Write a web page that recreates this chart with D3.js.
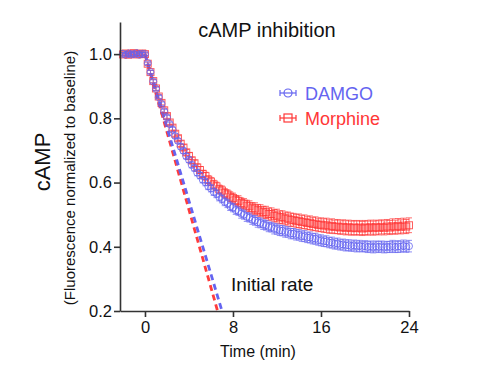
<!DOCTYPE html>
<html>
<head>
<meta charset="utf-8">
<script src="https://cdn.jsdelivr.net/npm/d3@7"></script>
<style>
  body { margin: 0; background: #fff; }
  svg text { font-family: "Liberation Sans", Arial, sans-serif; }
</style>
</head>
<body>
<div id="chart"></div>
<script>
// cAMP inhibition time course, DAMGO vs morphine
// x -> time (min), y -> cAMP normalized to baseline

var svgWidth = 480, svgHeight = 373;

// sampling grid, one reading every 15 s
var times = d3.range(-2, 24.001, 0.25);

var damgoMean = [
  1.001, 0.998, 1.002, 0.999, 1.000, 1.003, 0.998, 1.001, 1.000,
  0.972, 0.944, 0.915, 0.892, 0.866, 0.845, 0.822, 0.803,
  0.782, 0.765, 0.745, 0.730, 0.712, 0.699, 0.682, 0.671,
  0.655, 0.645, 0.631, 0.622, 0.609, 0.601, 0.589, 0.582,
  0.571, 0.565, 0.555, 0.549, 0.540, 0.535, 0.526, 0.522,
  0.514, 0.511, 0.503, 0.500, 0.493, 0.491, 0.484, 0.482,
  0.476, 0.474, 0.469, 0.467, 0.462, 0.461, 0.456, 0.455,
  0.451, 0.450, 0.446, 0.446, 0.441, 0.441, 0.437, 0.437,
  0.433, 0.433, 0.429, 0.429, 0.425, 0.425, 0.421, 0.420,
  0.417, 0.417, 0.413, 0.413, 0.409, 0.410, 0.406, 0.407,
  0.404, 0.405, 0.402, 0.404, 0.401, 0.403, 0.400, 0.402,
  0.399, 0.401, 0.398, 0.401, 0.399, 0.401, 0.398, 0.400,
  0.399, 0.402, 0.399, 0.401, 0.400, 0.403, 0.400, 0.402
];
var damgoErr = [
  0.004, 0.004, 0.004, 0.005, 0.004, 0.004, 0.005, 0.004, 0.004,
  0.004, 0.005, 0.005, 0.005, 0.005, 0.006, 0.006, 0.006,
  0.006, 0.007, 0.007, 0.007, 0.008, 0.008, 0.008, 0.009,
  0.009, 0.009, 0.010, 0.010, 0.010, 0.011, 0.011, 0.011,
  0.011, 0.012, 0.012, 0.012, 0.012, 0.013, 0.013, 0.013,
  0.013, 0.013, 0.014, 0.014, 0.014, 0.014, 0.014, 0.015,
  0.015, 0.015, 0.015, 0.015, 0.015, 0.015, 0.016, 0.016,
  0.016, 0.016, 0.016, 0.016, 0.016, 0.016, 0.016, 0.016,
  0.016, 0.017, 0.016, 0.017, 0.016, 0.017, 0.016, 0.017,
  0.016, 0.017, 0.016, 0.017, 0.016, 0.017, 0.016, 0.017,
  0.017, 0.017, 0.016, 0.017, 0.017, 0.017, 0.016, 0.017,
  0.017, 0.017, 0.017, 0.017, 0.017, 0.017, 0.017, 0.017,
  0.017, 0.018, 0.017, 0.018, 0.017, 0.018, 0.017, 0.018
];

var morphineMean = [
  0.999, 1.002, 0.998, 1.001, 1.003, 0.999, 1.000, 1.002, 1.000,
  0.970, 0.944, 0.916, 0.893, 0.868, 0.848, 0.825, 0.807,
  0.787, 0.771, 0.752, 0.738, 0.721, 0.709, 0.694, 0.683,
  0.669, 0.660, 0.647, 0.639, 0.627, 0.620, 0.609, 0.603,
  0.594, 0.588, 0.579, 0.575, 0.567, 0.563, 0.556, 0.552,
  0.545, 0.543, 0.536, 0.534, 0.528, 0.526, 0.520, 0.519,
  0.514, 0.513, 0.508, 0.507, 0.502, 0.502, 0.497, 0.497,
  0.492, 0.492, 0.488, 0.488, 0.484, 0.484, 0.480, 0.481,
  0.477, 0.478, 0.474, 0.475, 0.471, 0.472, 0.468, 0.469,
  0.466, 0.467, 0.463, 0.465, 0.462, 0.463, 0.460, 0.462,
  0.459, 0.461, 0.458, 0.460, 0.458, 0.460, 0.457, 0.460,
  0.458, 0.461, 0.458, 0.461, 0.459, 0.462, 0.459, 0.463,
  0.460, 0.464, 0.461, 0.465, 0.462, 0.466, 0.463, 0.467
];
var morphineErr = [
  0.004, 0.005, 0.004, 0.004, 0.005, 0.004, 0.004, 0.005, 0.004,
  0.005, 0.005, 0.005, 0.006, 0.006, 0.006, 0.007, 0.007,
  0.007, 0.008, 0.008, 0.008, 0.009, 0.009, 0.009, 0.010,
  0.010, 0.010, 0.011, 0.011, 0.011, 0.012, 0.012, 0.012,
  0.013, 0.013, 0.013, 0.014, 0.014, 0.014, 0.015, 0.015,
  0.015, 0.016, 0.016, 0.016, 0.017, 0.017, 0.017, 0.018,
  0.018, 0.018, 0.018, 0.019, 0.019, 0.019, 0.019, 0.020,
  0.020, 0.020, 0.020, 0.020, 0.021, 0.020, 0.021, 0.021,
  0.021, 0.021, 0.021, 0.021, 0.021, 0.021, 0.021, 0.021,
  0.021, 0.022, 0.021, 0.022, 0.021, 0.022, 0.021, 0.022,
  0.022, 0.022, 0.022, 0.022, 0.022, 0.022, 0.022, 0.022,
  0.022, 0.022, 0.022, 0.022, 0.022, 0.022, 0.022, 0.022,
  0.022, 0.023, 0.022, 0.023, 0.022, 0.023, 0.022, 0.023
];

// initial rate lines (time, value) start and end
var damgoRate = [[0, 1.0], [7.0, 0.2]];
var morphineRate = [[0, 1.0], [6.6, 0.2]];

var xTicks = [0, 8, 16, 24];
var yTicks = [0.2, 0.4, 0.6, 0.8, 1.0];
var legendNames = ["DAMGO", "Morphine"];

var blue = "rgba(100,100,240,0.8)";
var red = "rgba(255,55,55,0.8)";

var svg = d3.select("#chart")
            .append("svg")
            .attr("width", svgWidth)
            .attr("height", svgHeight);

// scales
var xScale = d3.scaleLinear().domain([-2.27, 24]).range([120, 409]);
var yScale = d3.scaleLinear().domain([0.2, 1.1]).range([311, 22]);

// build rows for each series
function rows(means, errs) {
  return times.map(function(t, i) {
    return { t: t, v: means[i], e: errs[i] };
  });
}
var damgoData = rows(damgoMean, damgoErr);
var morphineData = rows(morphineMean, morphineErr);

// dashed initial rate lines, behind the markers
var line = d3.line().x(d => xScale(d[0])).y(d => yScale(d[1]));
svg.append("path").datum(morphineRate)
   .attr("d", line).attr("fill", "none")
   .attr("stroke", "rgb(255,60,60)").attr("stroke-width", 2.8)
   .attr("stroke-dasharray", "6,4");
svg.append("path").datum(damgoRate)
   .attr("d", line).attr("fill", "none")
   .attr("stroke", "rgb(100,100,240)").attr("stroke-width", 2.8)
   .attr("stroke-dasharray", "6,4");

// error bars + markers
function drawSeries(data, color, shape) {
  var g = svg.append("g");
  g.selectAll(".err").data(data).enter().append("path")
    .attr("d", function(d) {
      var x = xScale(d.t), y1 = yScale(d.v + d.e), y2 = yScale(d.v - d.e);
      return "M" + (x - 3) + "," + y1 + "H" + (x + 3) +
             "M" + x + "," + y1 + "V" + y2 +
             "M" + (x - 3) + "," + y2 + "H" + (x + 3);
    })
    .attr("stroke", color).attr("stroke-width", 0.9).attr("fill", "none");
  if (shape === "circle") {
    g.selectAll(".pt").data(data).enter().append("circle")
      .attr("cx", d => xScale(d.t))
      .attr("cy", d => yScale(d.v))
      .attr("r", 3.5)
      .attr("fill", "none").attr("stroke", color).attr("stroke-width", 1);
  } else {
    g.selectAll(".pt").data(data).enter().append("rect")
      .attr("x", d => xScale(d.t) - 3.5)
      .attr("y", d => yScale(d.v) - 3.5)
      .attr("width", 7).attr("height", 7)
      .attr("fill", "none").attr("stroke", color).attr("stroke-width", 1);
  }
}
drawSeries(morphineData, red, "square");
drawSeries(damgoData, blue, "circle");

// axes
var xAxis = svg.append("g")
  .attr("transform", "translate(0,311)")
  .call(d3.axisBottom(xScale).tickValues(xTicks).tickSize(6).tickSizeOuter(0).tickPadding(4));
var yAxis = svg.append("g")
  .attr("transform", "translate(120,0)")
  .call(d3.axisLeft(yScale).tickValues(yTicks).tickSize(6).tickSizeOuter(0)
        .tickPadding(2).tickFormat(d3.format(".1f")));

[xAxis, yAxis].forEach(function(a) {
  a.select(".domain").attr("stroke", "#333").attr("stroke-width", 1.6);
  a.selectAll(".tick line").attr("stroke", "#333").attr("stroke-width", 1.6);
  a.selectAll(".tick text").attr("fill", "#111").style("font-size", "16.5px");
});

// titles
svg.append("text").attr("x", 267).attr("y", 37)
   .attr("text-anchor", "middle").style("font-size", "20px").attr("fill", "#111")
   .text("cAMP inhibition");

svg.append("text").attr("x", 258).attr("y", 357)
   .attr("text-anchor", "middle").style("font-size", "16px").attr("fill", "#111")
   .text("Time (min)");

svg.append("text")
   .attr("transform", "translate(50,162) rotate(-90)")
   .attr("text-anchor", "middle").style("font-size", "22px").attr("fill", "#111")
   .text("cAMP");

svg.append("text")
   .attr("transform", "translate(75,178) rotate(-90)")
   .attr("text-anchor", "middle").style("font-size", "15px").attr("fill", "#111")
   .text("(Fluorescence normalized to baseline)");

svg.append("text").attr("x", 231).attr("y", 291)
   .style("font-size", "19px").attr("fill", "#111")
   .text("Initial rate");

// legend
var legend = svg.append("g");
var legendColors = ["rgb(100,100,240)", "rgb(255,55,55)"];
legendNames.forEach(function(name, i) {
  var y = 93 + i * 25;
  legend.append("line").attr("x1", 280).attr("x2", 296).attr("y1", y).attr("y2", y)
        .attr("stroke", legendColors[i]).attr("stroke-width", 1.2);
  legend.append("line").attr("x1", 280).attr("x2", 280).attr("y1", y - 3).attr("y2", y + 3)
        .attr("stroke", legendColors[i]).attr("stroke-width", 1.2);
  legend.append("line").attr("x1", 296).attr("x2", 296).attr("y1", y - 3).attr("y2", y + 3)
        .attr("stroke", legendColors[i]).attr("stroke-width", 1.2);
  if (i === 0) {
    legend.append("circle").attr("cx", 288).attr("cy", y).attr("r", 4)
          .attr("fill", "none").attr("stroke", legendColors[i]).attr("stroke-width", 1.2);
  } else {
    legend.append("rect").attr("x", 284).attr("y", y - 4).attr("width", 8).attr("height", 8)
          .attr("fill", "none").attr("stroke", legendColors[i]).attr("stroke-width", 1.2);
  }
  legend.append("text").attr("x", 305).attr("y", y + 6.5)
        .style("font-size", "18px").attr("fill", legendColors[i])
        .text(name);
});
</script>
</body>
</html>
